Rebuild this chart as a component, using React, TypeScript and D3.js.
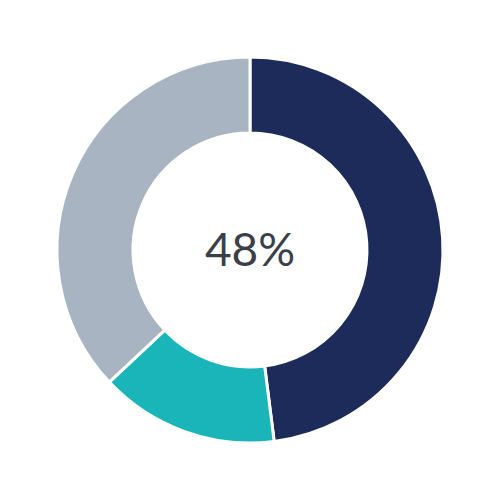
import React from 'react';
import * as d3 from 'd3';

const labels = ['Primary', 'Secondary', 'Other'];
const values = [48, 15, 37];
const colors = ['#1c2b5a', '#1ab5b8', '#a9b4c2'];
const centerLabel = '48%';

export default function App() {
  const width = 500;
  const height = 500;
  const outer = 193;
  const inner = 117;

  const pie = d3.pie<number>().sort(null).value(d => d);
  const arcs = pie(values);
  const arc = d3.arc<d3.PieArcDatum<number>>().innerRadius(inner).outerRadius(outer);

  return (
    <svg width={width} height={height} style={{ position: 'absolute', left: 0, top: 0, background: '#fff' }}>
      <g transform={`translate(${width / 2},${height / 2})`}>
        {arcs.map((a, i) => (
          <path key={labels[i]} d={arc(a) || ''} fill={colors[i]} stroke="#fff" strokeWidth={3} />
        ))}
        <text
          textAnchor="middle"
          dy="0.35em"
          fontFamily="Lato, 'Open Sans', sans-serif"
          fontWeight={400}
          fontSize={46}
          fill="#3a3f4a"
        >
          {centerLabel}
        </text>
      </g>
    </svg>
  );
}
